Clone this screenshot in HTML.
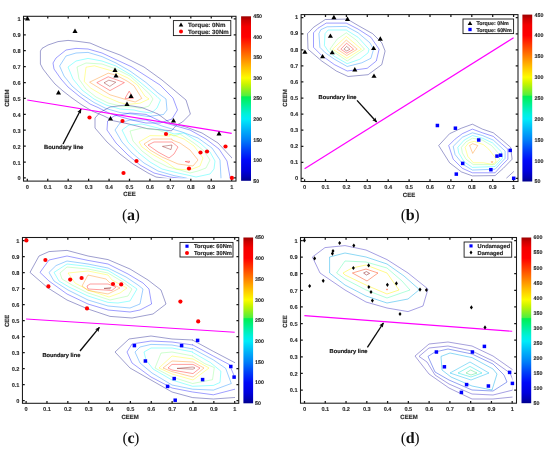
<!DOCTYPE html>
<html lang="en"><head><meta charset="utf-8"><title>Boundary line contour plots</title>
<style>html,body{margin:0;padding:0;background:#fff}body{width:550px;height:450px;overflow:hidden}</style></head>
<body>
<svg width="550" height="450" viewBox="0 0 550 450" style="display:block;text-rendering:geometricPrecision">
<defs><linearGradient id="jet" x1="0" y1="1" x2="0" y2="0">
<stop offset="0.0000" stop-color="#00008c"/>
<stop offset="0.0250" stop-color="#0000b4"/>
<stop offset="0.0625" stop-color="#0000dc"/>
<stop offset="0.1250" stop-color="#0008f8"/>
<stop offset="0.1875" stop-color="#0040f8"/>
<stop offset="0.2500" stop-color="#0080f8"/>
<stop offset="0.3125" stop-color="#00b4f8"/>
<stop offset="0.3750" stop-color="#00ecf8"/>
<stop offset="0.4050" stop-color="#00f0dc"/>
<stop offset="0.4375" stop-color="#00f0b4"/>
<stop offset="0.4750" stop-color="#00f080"/>
<stop offset="0.5100" stop-color="#00f052"/>
<stop offset="0.5175" stop-color="#50f040"/>
<stop offset="0.5500" stop-color="#88f020"/>
<stop offset="0.5875" stop-color="#c8f400"/>
<stop offset="0.6250" stop-color="#fcfc00"/>
<stop offset="0.6875" stop-color="#ffc000"/>
<stop offset="0.7500" stop-color="#ff8000"/>
<stop offset="0.8125" stop-color="#ff4000"/>
<stop offset="0.8750" stop-color="#ff0000"/>
<stop offset="0.9375" stop-color="#f40000"/>
<stop offset="0.9750" stop-color="#cc0000"/>
<stop offset="1.0000" stop-color="#9c0000"/>
</linearGradient>
<marker id="ah" viewBox="0 0 10 10" refX="9" refY="5" markerWidth="5.2" markerHeight="4.6" markerUnits="userSpaceOnUse" orient="auto"><path d="M0 0.5L10 5L0 9.5L1.5 5Z" fill="#0a0a0a"/></marker>
</defs>
<rect width="550" height="450" fill="#fff"/>
<g id="panel-a">
<clipPath id="clipa"><rect x="27.00" y="18.60" width="205.00" height="159.60"/></clipPath>
<g clip-path="url(#clipa)" fill="none" stroke-width="0.8" stroke-opacity="0.48" stroke-linejoin="round">
<path d="M40.4 51.0L42.0 48.4L48.0 45.0L58.0 41.6L68.0 40.4L78.0 41.4L90.0 43.0L104.0 49.0L120.0 55.0L136.0 63.0L144.0 67.0L162.0 80.0L174.0 90.0L186.0 100.0L190.4 114.0L182.5 122.0L176.6 125.0L171.5 130.8L147.0 128.6L128.0 123.8L113.6 120.8L104.0 116.0L92.0 111.0L82.0 105.0L72.0 98.0L63.0 91.0L55.0 84.0L50.0 78.0L43.0 69.0L40.4 64.0Z" stroke="#000080"/>
<path d="M53.0 63.0L56.0 58.0L66.0 50.0L76.0 48.4L88.0 49.0L102.0 53.0L116.0 59.6L132.0 67.0L146.0 76.0L160.0 85.0L173.0 98.0L177.5 110.0L172.0 119.0L160.0 123.0L146.0 123.0L134.0 120.5L119.6 116.5L108.8 113.0L98.0 107.5L90.0 104.0L79.0 96.0L68.0 87.0L61.0 79.0L54.0 69.0Z" stroke="#0000ff"/>
<path d="M59.6 66.0L66.0 56.0L76.0 53.0L88.0 52.4L102.0 56.6L116.0 63.0L130.0 71.0L146.0 82.5L158.0 93.0L166.0 99.0L167.0 110.0L163.5 114.5L148.0 116.5L132.0 114.0L120.0 112.5L106.0 108.5L94.0 102.5L82.0 94.5L72.0 86.0L64.0 76.0Z" stroke="#0080ff"/>
<path d="M68.0 67.0L76.0 61.0L88.0 58.4L102.0 61.0L116.0 66.0L132.0 75.5L146.0 87.0L157.0 96.5L160.5 100.0L157.0 108.0L151.5 113.0L140.0 111.5L134.0 110.0L120.0 109.0L106.0 105.0L94.0 99.0L82.0 90.0L73.0 79.0Z" stroke="#00ffff"/>
<path d="M77.0 67.0L86.0 63.0L102.0 64.0L116.0 69.0L130.0 76.0L141.0 86.0L150.0 94.5L153.0 99.0L149.0 106.0L141.0 108.5L134.0 107.0L122.0 106.4L108.0 103.0L96.0 97.0L86.0 89.0L79.0 79.0Z" stroke="#80ff80"/>
<path d="M86.0 67.2L94.4 65.8L113.6 71.4L128.0 78.0L137.6 85.2L144.8 96.0L149.0 99.0L140.0 103.2L128.0 104.4L119.6 102.6L104.0 96.0L90.8 88.2L84.2 81.6Z" stroke="#ffff00"/>
<path d="M89.6 82.2L108.2 73.2L116.0 75.0L128.0 81.6L134.0 85.8L141.8 98.4L135.2 102.0L128.0 100.2L110.0 94.8Z" stroke="#ff8000"/>
<path d="M96.8 82.6L108.2 76.8L124.4 82.6L110.0 90.6Z" stroke="#ff0000"/>
<path d="M129.2 91.2L133.4 98.4L125.0 98.4Z" stroke="#ff0000"/>
<path d="M104.0 82.8L108.8 80.2L115.8 82.2L109.8 86.4Z" stroke="#800000"/>
<path d="M95.0 128.0L95.0 118.0L100.0 112.4L110.0 107.0L126.0 105.0L142.0 107.6L158.0 114.0L170.0 123.0L186.0 127.0L202.0 133.0L218.0 143.0L232.0 158.0L238.0 166.0L240.0 184.0L190.0 184.0L174.0 179.4L156.0 177.0L148.0 173.0L133.0 164.0L120.0 154.0L107.0 142.0Z" stroke="#000080"/>
<path d="M107.0 130.0L107.6 121.0L114.0 116.0L130.0 113.0L146.0 114.4L162.0 122.0L176.0 126.0L190.0 130.0L206.0 139.0L219.0 149.0L227.0 161.0L230.0 177.0L230.0 184.0L202.0 184.0L186.0 179.0L170.0 177.0L154.0 173.0L140.0 165.0L128.0 155.0L116.0 143.0Z" stroke="#0000ff"/>
<path d="M115.0 130.0L120.0 123.0L130.0 120.0L146.0 120.0L162.0 126.0L182.0 132.0L198.0 138.0L212.0 148.0L220.0 160.0L221.0 178.0L220.0 184.0L198.0 182.0L186.0 178.0L174.0 175.6L158.0 171.0L144.0 163.0L132.0 153.0L122.0 142.0Z" stroke="#0080ff"/>
<path d="M122.0 130.0L129.0 125.0L142.0 124.0L158.0 128.0L174.0 134.0L184.0 133.0L200.0 143.0L210.0 152.0L215.0 161.0L214.0 169.0L210.0 174.0L196.0 177.0L190.0 175.6L178.0 173.0L162.0 169.0L150.0 162.0L138.0 152.4L128.0 142.0Z" stroke="#00ffff"/>
<path d="M130.0 131.0L142.0 128.0L158.0 130.0L174.0 136.0L180.0 134.0L194.0 143.0L204.0 151.0L210.0 160.0L206.0 168.0L198.0 171.0L190.0 173.0L180.0 170.0L168.0 167.0L154.0 160.0L142.0 151.0L133.0 141.0Z" stroke="#80ff80"/>
<path d="M139.0 142.0L150.0 135.6L170.0 136.0L170.0 134.0L184.0 139.0L194.0 146.0L203.0 158.0L200.0 166.0L190.0 170.0L176.0 169.0L166.0 162.0L152.0 154.0L142.0 147.0Z" stroke="#ffff00"/>
<path d="M144.0 144.0L152.0 139.0L172.0 139.0L172.0 140.0L180.0 143.0L190.0 150.0L198.0 160.0L193.0 166.0L178.0 164.0L162.0 157.0L150.0 150.0Z" stroke="#ff8000"/>
<path d="M148.0 145.0L154.0 142.0L172.0 142.0L178.0 147.0L174.0 154.0L169.0 158.0L158.0 152.0Z" stroke="#ff0000"/>
<path d="M162.4 146.4L172.0 145.0L171.0 149.6Z" stroke="#800000"/>
<path d="M185.2 161.5L189.6 161.2L189.1 162.8Z" stroke="#ff0000"/>
</g>
<line x1="27.30" y1="99.99" x2="231.70" y2="133.38" stroke="#ff00ff" stroke-width="1.15"/>
<rect x="23.5" y="16.3" width="212.50" height="164.80" fill="none" stroke="#1a1a1a" stroke-width="1.05"/>
<path d="M27.30 181.1v-2.3M27.30 16.3v2.3M23.5 177.90h2.3M236.0 177.90h-2.3M47.74 181.1v-2.3M47.74 16.3v2.3M23.5 162.00h2.3M236.0 162.00h-2.3M68.18 181.1v-2.3M68.18 16.3v2.3M23.5 146.10h2.3M236.0 146.10h-2.3M88.62 181.1v-2.3M88.62 16.3v2.3M23.5 130.20h2.3M236.0 130.20h-2.3M109.06 181.1v-2.3M109.06 16.3v2.3M23.5 114.30h2.3M236.0 114.30h-2.3M129.50 181.1v-2.3M129.50 16.3v2.3M23.5 98.40h2.3M236.0 98.40h-2.3M149.94 181.1v-2.3M149.94 16.3v2.3M23.5 82.50h2.3M236.0 82.50h-2.3M170.38 181.1v-2.3M170.38 16.3v2.3M23.5 66.60h2.3M236.0 66.60h-2.3M190.82 181.1v-2.3M190.82 16.3v2.3M23.5 50.70h2.3M236.0 50.70h-2.3M211.26 181.1v-2.3M211.26 16.3v2.3M23.5 34.80h2.3M236.0 34.80h-2.3M231.70 181.1v-2.3M231.70 16.3v2.3M23.5 18.90h2.3M236.0 18.90h-2.3" stroke="#1a1a1a" stroke-width="1.25" fill="none"/>
<path d="M24.95 20.40L30.05 20.40L27.50 16.00Z" fill="#000"/>
<path d="M72.45 32.90L77.55 32.90L75.00 28.50Z" fill="#000"/>
<path d="M55.95 94.40L61.05 94.40L58.50 90.00Z" fill="#000"/>
<path d="M112.45 71.90L117.55 71.90L115.00 67.50Z" fill="#000"/>
<path d="M113.45 77.40L118.55 77.40L116.00 73.00Z" fill="#000"/>
<path d="M128.45 97.90L133.55 97.90L131.00 93.50Z" fill="#000"/>
<path d="M124.45 105.90L129.55 105.90L127.00 101.50Z" fill="#000"/>
<path d="M107.95 120.40L113.05 120.40L110.50 116.00Z" fill="#000"/>
<path d="M170.95 122.40L176.05 122.40L173.50 118.00Z" fill="#000"/>
<path d="M216.45 135.40L221.55 135.40L219.00 131.00Z" fill="#000"/>
<circle cx="89.50" cy="117.50" r="2.10" fill="#ff0000"/>
<circle cx="122.50" cy="121.00" r="2.10" fill="#ff0000"/>
<circle cx="166.00" cy="134.00" r="2.10" fill="#ff0000"/>
<circle cx="136.50" cy="161.00" r="2.10" fill="#ff0000"/>
<circle cx="123.50" cy="173.00" r="2.10" fill="#ff0000"/>
<circle cx="189.00" cy="168.50" r="2.10" fill="#ff0000"/>
<circle cx="200.50" cy="152.50" r="2.10" fill="#ff0000"/>
<circle cx="207.00" cy="151.50" r="2.10" fill="#ff0000"/>
<circle cx="225.50" cy="146.50" r="2.10" fill="#ff0000"/>
<circle cx="231.90" cy="177.90" r="2.10" fill="#ff0000"/>
<g font-family="Liberation Sans, Arial, sans-serif" font-weight="bold" font-size="5.6" fill="#2a2a2a" stroke="#2a2a2a" stroke-width="0.12">
<text x="27.30" y="188.50" text-anchor="middle">0</text>
<text x="20.50" y="180.42" text-anchor="end">0</text>
<text x="47.74" y="188.50" text-anchor="middle">0.1</text>
<text x="20.50" y="164.52" text-anchor="end">0.1</text>
<text x="68.18" y="188.50" text-anchor="middle">0.2</text>
<text x="20.50" y="148.62" text-anchor="end">0.2</text>
<text x="88.62" y="188.50" text-anchor="middle">0.3</text>
<text x="20.50" y="132.72" text-anchor="end">0.3</text>
<text x="109.06" y="188.50" text-anchor="middle">0.4</text>
<text x="20.50" y="116.82" text-anchor="end">0.4</text>
<text x="129.50" y="188.50" text-anchor="middle">0.5</text>
<text x="20.50" y="100.92" text-anchor="end">0.5</text>
<text x="149.94" y="188.50" text-anchor="middle">0.6</text>
<text x="20.50" y="85.02" text-anchor="end">0.6</text>
<text x="170.38" y="188.50" text-anchor="middle">0.7</text>
<text x="20.50" y="69.12" text-anchor="end">0.7</text>
<text x="190.82" y="188.50" text-anchor="middle">0.8</text>
<text x="20.50" y="53.22" text-anchor="end">0.8</text>
<text x="211.26" y="188.50" text-anchor="middle">0.9</text>
<text x="20.50" y="37.32" text-anchor="end">0.9</text>
<text x="231.70" y="188.50" text-anchor="middle">1</text>
<text x="20.50" y="21.42" text-anchor="end">1</text>
<text x="253.2" y="182.71" font-size="5.3">50</text>
<text x="253.2" y="162.15" font-size="5.3">100</text>
<text x="253.2" y="141.58" font-size="5.3">150</text>
<text x="253.2" y="121.02" font-size="5.3">200</text>
<text x="253.2" y="100.46" font-size="5.3">250</text>
<text x="253.2" y="79.90" font-size="5.3">300</text>
<text x="253.2" y="59.33" font-size="5.3">350</text>
<text x="253.2" y="38.77" font-size="5.3">400</text>
<text x="253.2" y="18.21" font-size="5.3">450</text>
</g>
<g font-family="Liberation Sans, Arial, sans-serif" font-weight="bold" font-size="6.0" fill="#2a2a2a" stroke="#2a2a2a" stroke-width="0.14" text-anchor="middle">
<text x="129.5" y="196">CEE</text>
<text transform="translate(9.3 98.2) rotate(-90)">CEEM</text>
</g>
<rect x="241.1" y="16.3" width="9.90" height="164.50" fill="url(#jet)"/>
<rect x="173.4" y="20.6" width="57.40" height="15.00" fill="#fff" stroke="#1a1a1a" stroke-width="0.9"/>
<path d="M178.71 26.51L183.29 26.51L181.00 22.55Z" fill="#000"/>
<circle cx="181.00" cy="31.50" r="1.99" fill="#ff0000"/>
<g font-family="Liberation Sans, Arial, sans-serif" font-weight="bold" font-size="6.15" fill="#2a2a2a" stroke="#2a2a2a" stroke-width="0.18">
<text x="188" y="27.31">Torque: 0Nm</text>
<text x="188" y="34.01">Torque: 30Nm</text>
</g>
<text x="44" y="148.6" font-family="Liberation Sans, Arial, sans-serif" font-weight="bold" font-size="5.9" fill="#1a1a1a" stroke="#1a1a1a" stroke-width="0.2">Boundary line</text>
<line x1="63" y1="144" x2="81" y2="109.2" stroke="#0a0a0a" stroke-width="1.35" marker-end="url(#ah)"/>
<text x="130.7" y="220" text-anchor="middle" font-family="Liberation Serif, Times New Roman, serif" font-size="16" letter-spacing="-0.4" fill="#111">(<tspan font-weight="bold">a</tspan>)</text>
</g>
<g id="panel-b">
<clipPath id="clipb"><rect x="304.30" y="17.40" width="209.60" height="161.30"/></clipPath>
<g clip-path="url(#clipb)" fill="none" stroke-width="0.8" stroke-opacity="0.48" stroke-linejoin="round">
<path d="M307.5 33.7L313.5 27.3L325.3 19.5L347.2 19.1L358.1 25.5L372.7 33.7L381.8 42.8L385.1 51.0L381.8 64.6L368.1 74.7L348.1 76.5L336.3 71.0L321.7 61.0L308.0 49.2Z" stroke="#000080"/>
<path d="M313.5 32.8L318.0 28.2L326.2 23.1L346.3 23.1L358.1 29.1L370.9 37.3L379.1 49.2L376.3 61.0L367.2 68.3L347.2 71.0L334.4 64.6L321.7 55.5L313.5 47.3Z" stroke="#0000ff"/>
<path d="M318.9 33.7L320.8 29.7L327.1 26.8L346.3 26.4L358.1 32.8L369.9 42.8L373.6 49.2L370.9 58.3L361.8 62.8L347.2 66.5L334.4 59.2L325.3 52.8L319.9 47.3Z" stroke="#0080ff"/>
<path d="M325.0 33.7L328.1 30.0L346.3 30.0L358.1 37.3L369.0 49.2L368.1 52.8L359.9 59.2L347.2 63.7L334.4 56.4L328.1 51.0L324.4 45.5Z" stroke="#00ffff"/>
<path d="M329.9 49.2L337.2 39.1L346.3 32.8L356.3 40.1L364.5 49.2L347.2 61.0Z" stroke="#80ff80"/>
<path d="M332.6 49.2L346.3 36.4L361.4 49.2L346.8 58.3Z" stroke="#ffff00"/>
<path d="M337.2 49.2L346.3 40.1L357.2 49.2L346.8 55.5Z" stroke="#ff8000"/>
<path d="M340.8 49.2L346.6 43.2L353.6 49.2L346.8 53.2Z" stroke="#ff0000"/>
<path d="M343.9 49.2L346.6 46.4L349.9 49.2L346.8 51.0Z" stroke="#800000"/>
<path d="M438.7 145.5L449.6 133.7L461.4 128.2L472.4 124.2L482.4 129.1L493.3 132.8L503.3 141.0L510.6 147.3L512.1 159.2L503.3 168.3L495.1 175.6L472.4 175.9L461.4 171.9L449.6 162.8Z" stroke="#000080"/>
<path d="M506.3 178.3L514.0 171.3" stroke="#000080"/>
<path d="M448.7 145.5L455.1 139.1L462.3 133.7L472.4 129.1L482.4 132.8L493.3 136.4L501.5 143.7L507.9 149.2L507.9 159.2L501.5 165.6L495.1 172.8L472.4 172.8L462.3 168.3L453.2 159.2Z" stroke="#0000ff"/>
<path d="M453.2 146.4L462.3 137.3L472.4 132.8L482.4 135.5L493.3 140.1L505.1 151.0L505.1 158.3L495.1 169.2L472.4 170.1L463.3 164.6L455.1 154.6Z" stroke="#0080ff"/>
<path d="M457.8 147.3L464.2 140.1L472.4 135.5L482.4 138.2L492.4 142.8L501.5 151.9L502.4 158.3L495.1 166.5L472.4 167.4L464.2 161.9L458.7 152.8Z" stroke="#00ffff"/>
<path d="M461.4 147.3L466.0 141.9L472.4 138.2L482.4 140.1L491.5 145.5L498.8 153.7L499.7 159.2L494.2 164.6L473.3 164.6L466.0 159.2L462.3 152.8Z" stroke="#80ff80"/>
<path d="M465.1 147.3L468.7 142.8L474.2 141.3L483.3 144.6L488.8 149.2L495.1 157.4L496.0 161.9L492.4 164.3L483.3 162.8L473.3 162.8L467.8 156.4Z" stroke="#ffff00"/>
<path d="M469.6 145.5L472.7 143.7L477.8 145.5L472.7 153.4Z" stroke="#ff8000"/>
<path d="M490.9 161.9L492.8 161.5L492.4 162.8Z" stroke="#ff8000"/>
</g>
<line x1="304.60" y1="168.76" x2="513.60" y2="37.79" stroke="#ff00ff" stroke-width="1.15"/>
<rect x="301.1" y="14.6" width="216.90" height="166.90" fill="none" stroke="#1a1a1a" stroke-width="1.05"/>
<path d="M304.60 181.5v-2.3M304.60 14.6v2.3M301.1 178.40h2.3M518.0 178.40h-2.3M325.50 181.5v-2.3M325.50 14.6v2.3M301.1 162.33h2.3M518.0 162.33h-2.3M346.40 181.5v-2.3M346.40 14.6v2.3M301.1 146.26h2.3M518.0 146.26h-2.3M367.30 181.5v-2.3M367.30 14.6v2.3M301.1 130.19h2.3M518.0 130.19h-2.3M388.20 181.5v-2.3M388.20 14.6v2.3M301.1 114.12h2.3M518.0 114.12h-2.3M409.10 181.5v-2.3M409.10 14.6v2.3M301.1 98.05h2.3M518.0 98.05h-2.3M430.00 181.5v-2.3M430.00 14.6v2.3M301.1 81.98h2.3M518.0 81.98h-2.3M450.90 181.5v-2.3M450.90 14.6v2.3M301.1 65.91h2.3M518.0 65.91h-2.3M471.80 181.5v-2.3M471.80 14.6v2.3M301.1 49.84h2.3M518.0 49.84h-2.3M492.70 181.5v-2.3M492.70 14.6v2.3M301.1 33.77h2.3M518.0 33.77h-2.3M513.60 181.5v-2.3M513.60 14.6v2.3M301.1 17.70h2.3M518.0 17.70h-2.3" stroke="#1a1a1a" stroke-width="1.25" fill="none"/>
<path d="M331.35 19.20L336.45 19.20L333.90 14.80Z" fill="#000"/>
<path d="M344.95 21.00L350.05 21.00L347.50 16.60Z" fill="#000"/>
<path d="M327.85 37.80L332.95 37.80L330.40 33.40Z" fill="#000"/>
<path d="M302.35 53.80L307.45 53.80L304.90 49.40Z" fill="#000"/>
<path d="M320.05 58.30L325.15 58.30L322.60 53.90Z" fill="#000"/>
<path d="M329.65 54.30L334.75 54.30L332.20 49.90Z" fill="#000"/>
<path d="M377.75 40.70L382.85 40.70L380.30 36.30Z" fill="#000"/>
<path d="M371.05 50.10L376.15 50.10L373.60 45.70Z" fill="#000"/>
<path d="M352.25 71.50L357.35 71.50L354.80 67.10Z" fill="#000"/>
<path d="M371.45 77.80L376.55 77.80L374.00 73.40Z" fill="#000"/>
<rect x="435.65" y="123.75" width="3.50" height="3.50" fill="#0000ff"/>
<rect x="453.65" y="126.45" width="3.50" height="3.50" fill="#0000ff"/>
<rect x="476.95" y="138.25" width="3.50" height="3.50" fill="#0000ff"/>
<rect x="460.95" y="161.65" width="3.50" height="3.50" fill="#0000ff"/>
<rect x="454.55" y="172.35" width="3.50" height="3.50" fill="#0000ff"/>
<rect x="489.15" y="167.95" width="3.50" height="3.50" fill="#0000ff"/>
<rect x="495.25" y="154.35" width="3.50" height="3.50" fill="#0000ff"/>
<rect x="498.85" y="153.45" width="3.50" height="3.50" fill="#0000ff"/>
<rect x="508.45" y="148.65" width="3.50" height="3.50" fill="#0000ff"/>
<rect x="511.95" y="176.55" width="3.50" height="3.50" fill="#0000ff"/>
<g font-family="Liberation Sans, Arial, sans-serif" font-weight="bold" font-size="5.6" fill="#2a2a2a" stroke="#2a2a2a" stroke-width="0.12">
<text x="304.60" y="189.00" text-anchor="middle">0</text>
<text x="298.10" y="180.12" text-anchor="end">0</text>
<text x="325.50" y="189.00" text-anchor="middle">0.1</text>
<text x="298.10" y="164.05" text-anchor="end">0.1</text>
<text x="346.40" y="189.00" text-anchor="middle">0.2</text>
<text x="298.10" y="147.98" text-anchor="end">0.2</text>
<text x="367.30" y="189.00" text-anchor="middle">0.3</text>
<text x="298.10" y="131.91" text-anchor="end">0.3</text>
<text x="388.20" y="189.00" text-anchor="middle">0.4</text>
<text x="298.10" y="115.84" text-anchor="end">0.4</text>
<text x="409.10" y="189.00" text-anchor="middle">0.5</text>
<text x="298.10" y="99.77" text-anchor="end">0.5</text>
<text x="430.00" y="189.00" text-anchor="middle">0.6</text>
<text x="298.10" y="83.70" text-anchor="end">0.6</text>
<text x="450.90" y="189.00" text-anchor="middle">0.7</text>
<text x="298.10" y="67.63" text-anchor="end">0.7</text>
<text x="471.80" y="189.00" text-anchor="middle">0.8</text>
<text x="298.10" y="51.56" text-anchor="end">0.8</text>
<text x="492.70" y="189.00" text-anchor="middle">0.9</text>
<text x="298.10" y="35.49" text-anchor="end">0.9</text>
<text x="513.60" y="189.00" text-anchor="middle">1</text>
<text x="298.10" y="19.42" text-anchor="end">1</text>
<text x="534.5" y="183.41" font-size="5.3">50</text>
<text x="534.5" y="162.55" font-size="5.3">100</text>
<text x="534.5" y="141.68" font-size="5.3">150</text>
<text x="534.5" y="120.82" font-size="5.3">200</text>
<text x="534.5" y="99.96" font-size="5.3">250</text>
<text x="534.5" y="79.10" font-size="5.3">300</text>
<text x="534.5" y="58.23" font-size="5.3">350</text>
<text x="534.5" y="37.37" font-size="5.3">400</text>
<text x="534.5" y="16.51" font-size="5.3">450</text>
</g>
<g font-family="Liberation Sans, Arial, sans-serif" font-weight="bold" font-size="6.0" fill="#2a2a2a" stroke="#2a2a2a" stroke-width="0.14" text-anchor="middle">
<text x="409" y="196.8">CEE</text>
<text transform="translate(287.3 98) rotate(-90)">CEEM</text>
</g>
<rect x="522.4" y="14.6" width="9.80" height="166.90" fill="url(#jet)"/>
<rect x="463" y="19" width="50.60" height="14.60" fill="#fff" stroke="#1a1a1a" stroke-width="0.9"/>
<path d="M467.70 24.91L472.30 24.91L470.00 20.95Z" fill="#000"/>
<rect x="468.34" y="27.84" width="3.32" height="3.32" fill="#0000ff"/>
<g font-family="Liberation Sans, Arial, sans-serif" font-weight="bold" font-size="5.3" fill="#2a2a2a" stroke="#2a2a2a" stroke-width="0.18">
<text x="476.4" y="25.41">Torque: 0Nm</text>
<text x="476.4" y="31.71">Torque: 60Nm</text>
</g>
<text x="318.6" y="99.4" font-family="Liberation Sans, Arial, sans-serif" font-weight="bold" font-size="5.7" fill="#1a1a1a" stroke="#1a1a1a" stroke-width="0.2">Boundary line</text>
<line x1="357" y1="100.4" x2="376.6" y2="122" stroke="#0a0a0a" stroke-width="1.35" marker-end="url(#ah)"/>
<text x="409.95" y="220" text-anchor="middle" font-family="Liberation Serif, Times New Roman, serif" font-size="16" letter-spacing="-0.4" fill="#111">(<tspan font-weight="bold">b</tspan>)</text>
</g>
<g id="panel-c">
<clipPath id="clipc"><rect x="25.80" y="240.20" width="209.20" height="160.80"/></clipPath>
<g clip-path="url(#clipc)" fill="none" stroke-width="0.8" stroke-opacity="0.48" stroke-linejoin="round">
<path d="M30.0 272.4L39.0 256.0L49.0 251.6L67.0 250.4L88.0 256.0L108.0 259.6L130.0 269.0L148.0 280.0L161.0 290.0L166.0 304.0L153.0 314.0L132.0 318.0L110.0 316.4L88.0 309.0L67.0 300.0L48.0 288.0Z" stroke="#000080"/>
<path d="M40.0 272.4L49.0 260.0L67.0 256.0L88.0 260.4L108.0 264.0L128.0 274.0L143.0 283.0L149.0 289.0L151.6 304.0L140.0 310.0L130.0 312.0L108.0 310.0L88.0 304.0L67.0 294.0L49.0 281.0Z" stroke="#0000ff"/>
<path d="M49.0 272.4L56.0 265.6L67.0 261.0L88.0 264.0L108.0 268.0L126.0 277.0L138.0 285.0L143.0 289.0L140.0 304.0L130.0 308.0L108.0 306.0L88.0 300.0L68.0 290.0L54.0 281.0Z" stroke="#0080ff"/>
<path d="M54.0 272.4L67.0 264.0L88.0 266.4L108.0 270.4L124.0 280.0L137.0 289.0L130.0 301.0L118.0 303.0L108.0 302.4L88.0 296.0L69.0 287.0L59.0 281.0Z" stroke="#00ffff"/>
<path d="M60.0 273.0L67.0 267.0L88.0 269.0L108.0 273.0L123.0 282.0L132.0 289.0L128.0 296.0L110.0 300.0L88.0 293.0L72.0 285.0L62.0 279.0Z" stroke="#80ff80"/>
<path d="M68.0 273.0L88.0 271.0L108.0 275.0L112.0 280.0L127.0 288.0L120.0 293.0L109.0 297.0L88.0 290.0L75.0 283.0Z" stroke="#ffff00"/>
<path d="M82.0 286.0L88.0 275.0L106.0 279.0L110.0 283.0L120.0 288.0L110.0 293.0L108.0 294.0L88.0 290.4Z" stroke="#ff8000"/>
<path d="M87.0 286.0L90.0 284.0L108.0 284.0L116.0 287.0L112.0 290.4L88.0 289.0Z" stroke="#ff0000"/>
<path d="M104.0 288.4L111.0 287.6L110.0 288.8Z" stroke="#800000"/>
<path d="M115.0 352.0L129.0 339.0L151.0 336.0L172.0 339.0L193.0 340.0L192.6 340.1L213.4 351.4L233.2 361.8L245.5 368.4L245.5 396.7L233.2 397.6L213.4 399.0L192.6 397.6L172.0 392.0L151.0 380.0L130.0 368.0Z" stroke="#000080"/>
<path d="M127.0 352.0L132.0 344.0L151.0 341.0L172.0 342.0L193.0 345.0L192.6 344.8L213.4 356.1L229.4 364.6L234.2 375.9L236.4 381.6L236.4 388.8L213.4 394.8L192.6 392.0L172.0 388.0L151.0 377.0L132.0 363.0Z" stroke="#0000ff"/>
<path d="M135.0 352.0L140.0 347.0L151.0 344.4L172.0 345.0L193.0 349.0L192.6 348.6L213.4 359.9L225.7 368.4L231.3 383.5L213.4 390.1L192.6 389.2L172.0 385.0L152.0 373.0L140.0 363.0Z" stroke="#0080ff"/>
<path d="M144.0 352.0L151.0 348.0L172.0 348.0L193.0 352.0L192.6 352.4L210.6 362.7L220.9 371.2L220.0 382.5L213.4 385.4L192.6 386.3L172.0 380.0L153.0 369.0L146.0 360.0Z" stroke="#00ffff"/>
<path d="M155.0 368.0L161.0 353.0L172.0 352.0L193.0 356.0L192.6 356.1L204.9 363.7L214.3 367.5L212.5 379.7L192.6 383.5L172.0 377.0Z" stroke="#80ff80"/>
<path d="M159.0 368.0L172.0 356.0L193.0 359.0L209.0 368.0L193.0 380.0L172.0 374.0Z" stroke="#ffff00"/>
<path d="M163.0 368.0L172.0 361.0L193.0 362.0L204.0 368.0L193.0 377.0L172.0 371.6Z" stroke="#ff8000"/>
<path d="M168.0 368.0L172.0 364.4L193.0 364.4L200.0 368.0L193.0 373.6L172.0 370.0Z" stroke="#ff0000"/>
<path d="M177.0 368.4L193.0 367.0L195.0 368.0L193.0 369.2Z" stroke="#800000"/>
</g>
<line x1="26.10" y1="319.00" x2="234.70" y2="332.29" stroke="#ff00ff" stroke-width="1.15"/>
<rect x="22.45" y="237.5" width="216.30" height="165.80" fill="none" stroke="#1a1a1a" stroke-width="1.05"/>
<path d="M26.10 403.3v-2.3M26.10 237.5v2.3M22.45 400.70h2.3M238.75 400.70h-2.3M46.96 403.3v-2.3M46.96 237.5v2.3M22.45 384.68h2.3M238.75 384.68h-2.3M67.82 403.3v-2.3M67.82 237.5v2.3M22.45 368.66h2.3M238.75 368.66h-2.3M88.68 403.3v-2.3M88.68 237.5v2.3M22.45 352.64h2.3M238.75 352.64h-2.3M109.54 403.3v-2.3M109.54 237.5v2.3M22.45 336.62h2.3M238.75 336.62h-2.3M130.40 403.3v-2.3M130.40 237.5v2.3M22.45 320.60h2.3M238.75 320.60h-2.3M151.26 403.3v-2.3M151.26 237.5v2.3M22.45 304.58h2.3M238.75 304.58h-2.3M172.12 403.3v-2.3M172.12 237.5v2.3M22.45 288.56h2.3M238.75 288.56h-2.3M192.98 403.3v-2.3M192.98 237.5v2.3M22.45 272.54h2.3M238.75 272.54h-2.3M213.84 403.3v-2.3M213.84 237.5v2.3M22.45 256.52h2.3M238.75 256.52h-2.3M234.70 403.3v-2.3M234.70 237.5v2.3M22.45 240.50h2.3M238.75 240.50h-2.3" stroke="#1a1a1a" stroke-width="1.25" fill="none"/>
<circle cx="26.40" cy="240.40" r="2.10" fill="#ff0000"/>
<circle cx="45.40" cy="260.00" r="2.10" fill="#ff0000"/>
<circle cx="48.40" cy="286.40" r="2.10" fill="#ff0000"/>
<circle cx="70.20" cy="279.60" r="2.10" fill="#ff0000"/>
<circle cx="81.60" cy="278.00" r="2.10" fill="#ff0000"/>
<circle cx="87.00" cy="308.40" r="2.10" fill="#ff0000"/>
<circle cx="113.00" cy="284.00" r="2.10" fill="#ff0000"/>
<circle cx="121.20" cy="284.40" r="2.10" fill="#ff0000"/>
<circle cx="180.40" cy="301.60" r="2.10" fill="#ff0000"/>
<circle cx="198.20" cy="321.40" r="2.10" fill="#ff0000"/>
<rect x="132.65" y="343.85" width="3.50" height="3.50" fill="#0000ff"/>
<rect x="143.65" y="359.25" width="3.50" height="3.50" fill="#0000ff"/>
<rect x="179.85" y="343.85" width="3.50" height="3.50" fill="#0000ff"/>
<rect x="195.85" y="338.65" width="3.50" height="3.50" fill="#0000ff"/>
<rect x="172.45" y="376.85" width="3.50" height="3.50" fill="#0000ff"/>
<rect x="165.85" y="384.65" width="3.50" height="3.50" fill="#0000ff"/>
<rect x="200.85" y="377.85" width="3.50" height="3.50" fill="#0000ff"/>
<rect x="173.45" y="398.45" width="3.50" height="3.50" fill="#0000ff"/>
<rect x="229.05" y="364.75" width="3.50" height="3.50" fill="#0000ff"/>
<rect x="232.35" y="375.35" width="3.50" height="3.50" fill="#0000ff"/>
<g font-family="Liberation Sans, Arial, sans-serif" font-weight="bold" font-size="5.6" fill="#2a2a2a" stroke="#2a2a2a" stroke-width="0.12">
<text x="26.10" y="410.60" text-anchor="middle">0</text>
<text x="19.45" y="403.22" text-anchor="end">0</text>
<text x="46.96" y="410.60" text-anchor="middle">0.1</text>
<text x="19.45" y="387.20" text-anchor="end">0.1</text>
<text x="67.82" y="410.60" text-anchor="middle">0.2</text>
<text x="19.45" y="371.18" text-anchor="end">0.2</text>
<text x="88.68" y="410.60" text-anchor="middle">0.3</text>
<text x="19.45" y="355.16" text-anchor="end">0.3</text>
<text x="109.54" y="410.60" text-anchor="middle">0.4</text>
<text x="19.45" y="339.14" text-anchor="end">0.4</text>
<text x="130.40" y="410.60" text-anchor="middle">0.5</text>
<text x="19.45" y="323.12" text-anchor="end">0.5</text>
<text x="151.26" y="410.60" text-anchor="middle">0.6</text>
<text x="19.45" y="307.10" text-anchor="end">0.6</text>
<text x="172.12" y="410.60" text-anchor="middle">0.7</text>
<text x="19.45" y="291.08" text-anchor="end">0.7</text>
<text x="192.98" y="410.60" text-anchor="middle">0.8</text>
<text x="19.45" y="275.06" text-anchor="end">0.8</text>
<text x="213.84" y="410.60" text-anchor="middle">0.9</text>
<text x="19.45" y="259.04" text-anchor="end">0.9</text>
<text x="234.70" y="410.60" text-anchor="middle">1</text>
<text x="19.45" y="243.02" text-anchor="end">1</text>
<text x="255" y="405.21" font-size="5.3">50</text>
<text x="255" y="384.48" font-size="5.3">100</text>
<text x="255" y="363.76" font-size="5.3">150</text>
<text x="255" y="343.03" font-size="5.3">200</text>
<text x="255" y="322.31" font-size="5.3">250</text>
<text x="255" y="301.58" font-size="5.3">300</text>
<text x="255" y="280.86" font-size="5.3">350</text>
<text x="255" y="260.13" font-size="5.3">400</text>
<text x="255" y="239.41" font-size="5.3">450</text>
</g>
<g font-family="Liberation Sans, Arial, sans-serif" font-weight="bold" font-size="6.0" fill="#2a2a2a" stroke="#2a2a2a" stroke-width="0.14" text-anchor="middle">
<text x="130.2" y="418.5">CEEM</text>
<text transform="translate(8.8 320.8) rotate(-90)">CEE</text>
</g>
<rect x="243.4" y="237.5" width="9.70" height="165.80" fill="url(#jet)"/>
<rect x="180" y="242.4" width="53.00" height="14.60" fill="#fff" stroke="#1a1a1a" stroke-width="0.9"/>
<rect x="185.43" y="244.62" width="3.15" height="3.15" fill="#0000ff"/>
<circle cx="187.00" cy="253.00" r="1.99" fill="#ff0000"/>
<g font-family="Liberation Sans, Arial, sans-serif" font-weight="bold" font-size="5.7" fill="#2a2a2a" stroke="#2a2a2a" stroke-width="0.18">
<text x="194" y="247.85">Torque: 60Nm</text>
<text x="194" y="255.35">Torque: 30Nm</text>
</g>
<text x="42.4" y="356.5" font-family="Liberation Sans, Arial, sans-serif" font-weight="bold" font-size="5.7" fill="#1a1a1a" stroke="#1a1a1a" stroke-width="0.2">Boundary line</text>
<line x1="80" y1="351" x2="99.4" y2="327.4" stroke="#0a0a0a" stroke-width="1.35" marker-end="url(#ah)"/>
<text x="130.75" y="442.7" text-anchor="middle" font-family="Liberation Serif, Times New Roman, serif" font-size="16" letter-spacing="-0.4" fill="#111">(<tspan font-weight="bold">c</tspan>)</text>
</g>
<g id="panel-d">
<clipPath id="clipd"><rect x="304.20" y="240.20" width="208.30" height="163.00"/></clipPath>
<g clip-path="url(#clipd)" fill="none" stroke-width="0.95" stroke-opacity="0.48" stroke-linejoin="round">
<path d="M312.4 257.0L325.0 247.6L345.0 245.6L366.0 250.0L387.0 259.6L408.0 273.0L428.0 289.0L423.0 306.0L408.0 311.6L387.0 308.0L366.0 302.0L345.0 290.0L320.0 273.0Z" stroke="#3a2cc0"/>
<path d="M329.6 257.0L345.0 253.0L366.0 257.0L387.0 264.0L404.0 276.0L419.4 289.6L408.0 299.0L387.0 303.0L366.0 296.0L345.0 285.0L329.6 273.0Z" stroke="#00a8e8"/>
<path d="M336.6 273.0L345.0 261.0L366.0 262.0L387.0 268.0L402.0 281.0L410.0 290.0L387.0 298.0L366.0 290.0L345.0 279.0Z" stroke="#51ffae"/>
<path d="M343.0 273.0L352.0 268.0L366.0 265.0L387.0 273.0L387.0 273.0L399.0 290.0L387.0 294.0L366.0 285.0L345.0 275.0Z" stroke="#fff300"/>
<path d="M352.4 273.0L366.0 269.0L378.0 273.0L367.0 281.0Z" stroke="#ff3a00"/>
<path d="M363.6 273.0L366.4 271.6L369.6 273.4L366.4 275.0Z" stroke="#800000"/>
<path d="M386.4 289.2L387.6 289.2L387.0 290.2Z" stroke="#ff3a00"/>
<path d="M415.0 356.0L429.0 344.0L448.0 342.0L472.0 346.0L493.0 356.0L513.0 370.0L523.0 377.0L523.0 395.0L513.0 397.0L493.0 399.0L472.0 399.0L449.0 388.0L429.0 374.0Z" stroke="#3a2cb0"/>
<path d="M419.0 356.4L429.0 348.0L448.0 346.0L472.0 351.0L493.0 361.0L510.0 373.0L513.4 381.0L513.0 390.0L509.0 391.0L493.0 395.0L472.0 394.0L449.0 384.0L435.0 375.0L427.0 362.0Z" stroke="#3a2cc0"/>
<path d="M428.0 356.4L435.0 352.0L448.0 349.0L472.0 354.0L493.0 364.0L504.0 375.0L507.0 382.0L493.0 391.0L472.0 390.0L449.0 380.0L435.0 372.0Z" stroke="#1030e0"/>
<path d="M441.0 356.4L450.0 353.0L472.0 357.6L493.0 369.0L497.0 374.0L492.0 390.0L472.0 386.0L451.0 377.0L442.0 370.0Z" stroke="#00a8e8"/>
<path d="M450.0 373.0L470.0 362.0L489.0 373.0L471.0 380.0Z" stroke="#10b8f0"/>
<path d="M458.0 373.0L470.0 366.4L482.0 373.0L471.0 377.0Z" stroke="#10e0e0"/>
<path d="M466.0 373.0L470.6 370.0L477.0 373.0L471.0 375.0Z" stroke="#40e080"/>
</g>
<line x1="304.40" y1="315.60" x2="512.20" y2="331.30" stroke="#ff00ff" stroke-width="1.15"/>
<rect x="300.5" y="237.5" width="216.00" height="165.70" fill="none" stroke="#1a1a1a" stroke-width="1.05"/>
<path d="M304.50 403.2v-2.3M304.50 237.5v2.3M325.27 403.2v-2.3M325.27 237.5v2.3M300.5 390.10h2.3M516.5 390.10h-2.3M346.04 403.2v-2.3M346.04 237.5v2.3M300.5 373.48h2.3M516.5 373.48h-2.3M366.81 403.2v-2.3M366.81 237.5v2.3M300.5 356.85h2.3M516.5 356.85h-2.3M387.58 403.2v-2.3M387.58 237.5v2.3M300.5 340.23h2.3M516.5 340.23h-2.3M408.35 403.2v-2.3M408.35 237.5v2.3M300.5 323.61h2.3M516.5 323.61h-2.3M429.12 403.2v-2.3M429.12 237.5v2.3M300.5 306.99h2.3M516.5 306.99h-2.3M449.89 403.2v-2.3M449.89 237.5v2.3M300.5 290.37h2.3M516.5 290.37h-2.3M470.66 403.2v-2.3M470.66 237.5v2.3M300.5 273.74h2.3M516.5 273.74h-2.3M491.43 403.2v-2.3M491.43 237.5v2.3M300.5 257.12h2.3M516.5 257.12h-2.3M512.20 403.2v-2.3M512.20 237.5v2.3M300.5 240.50h2.3M516.5 240.50h-2.3" stroke="#1a1a1a" stroke-width="1.25" fill="none"/>
<path d="M302.90 240.40L304.40 238.30L305.90 240.40L304.40 242.50Z" fill="#000"/>
<path d="M313.10 258.40L314.60 256.30L316.10 258.40L314.60 260.50Z" fill="#000"/>
<path d="M308.10 286.00L309.60 283.90L311.10 286.00L309.60 288.10Z" fill="#000"/>
<path d="M321.70 280.80L323.20 278.70L324.70 280.80L323.20 282.90Z" fill="#000"/>
<path d="M338.10 243.00L339.60 240.90L341.10 243.00L339.60 245.10Z" fill="#000"/>
<path d="M331.50 251.00L333.00 248.90L334.50 251.00L333.00 253.10Z" fill="#000"/>
<path d="M330.90 253.60L332.40 251.50L333.90 253.60L332.40 255.70Z" fill="#000"/>
<path d="M352.30 245.60L353.80 243.50L355.30 245.60L353.80 247.70Z" fill="#000"/>
<path d="M351.90 268.00L353.40 265.90L354.90 268.00L353.40 270.10Z" fill="#000"/>
<path d="M367.10 265.40L368.60 263.30L370.10 265.40L368.60 267.50Z" fill="#000"/>
<path d="M367.30 287.00L368.80 284.90L370.30 287.00L368.80 289.10Z" fill="#000"/>
<path d="M369.50 292.00L371.00 289.90L372.50 292.00L371.00 294.10Z" fill="#000"/>
<path d="M370.90 300.60L372.40 298.50L373.90 300.60L372.40 302.70Z" fill="#000"/>
<path d="M385.90 284.80L387.40 282.70L388.90 284.80L387.40 286.90Z" fill="#000"/>
<path d="M394.90 283.40L396.40 281.30L397.90 283.40L396.40 285.50Z" fill="#000"/>
<path d="M398.50 314.00L400.00 311.90L401.50 314.00L400.00 316.10Z" fill="#000"/>
<path d="M418.50 289.60L420.00 287.50L421.50 289.60L420.00 291.70Z" fill="#000"/>
<path d="M424.90 290.00L426.40 287.90L427.90 290.00L426.40 292.10Z" fill="#000"/>
<path d="M469.90 307.40L471.40 305.30L472.90 307.40L471.40 309.50Z" fill="#000"/>
<path d="M483.50 327.40L485.00 325.30L486.50 327.40L485.00 329.50Z" fill="#000"/>
<rect x="434.65" y="350.25" width="3.50" height="3.50" fill="#0000ff"/>
<rect x="442.65" y="365.05" width="3.50" height="3.50" fill="#0000ff"/>
<rect x="470.65" y="350.25" width="3.50" height="3.50" fill="#0000ff"/>
<rect x="482.65" y="344.65" width="3.50" height="3.50" fill="#0000ff"/>
<rect x="464.85" y="382.85" width="3.50" height="3.50" fill="#0000ff"/>
<rect x="459.65" y="390.65" width="3.50" height="3.50" fill="#0000ff"/>
<rect x="486.65" y="384.25" width="3.50" height="3.50" fill="#0000ff"/>
<rect x="507.85" y="370.65" width="3.50" height="3.50" fill="#0000ff"/>
<rect x="510.65" y="381.65" width="3.50" height="3.50" fill="#0000ff"/>
<g font-family="Liberation Sans, Arial, sans-serif" font-weight="bold" font-size="5.6" fill="#2a2a2a" stroke="#2a2a2a" stroke-width="0.12">
<text x="304.50" y="410.80" text-anchor="middle">0</text>
<text x="325.27" y="410.80" text-anchor="middle">0.1</text>
<text x="297.50" y="392.26" text-anchor="end">0.1</text>
<text x="346.04" y="410.80" text-anchor="middle">0.2</text>
<text x="297.50" y="375.64" text-anchor="end">0.2</text>
<text x="366.81" y="410.80" text-anchor="middle">0.3</text>
<text x="297.50" y="359.02" text-anchor="end">0.3</text>
<text x="387.58" y="410.80" text-anchor="middle">0.4</text>
<text x="297.50" y="342.40" text-anchor="end">0.4</text>
<text x="408.35" y="410.80" text-anchor="middle">0.5</text>
<text x="297.50" y="325.78" text-anchor="end">0.5</text>
<text x="429.12" y="410.80" text-anchor="middle">0.6</text>
<text x="297.50" y="309.15" text-anchor="end">0.6</text>
<text x="449.89" y="410.80" text-anchor="middle">0.7</text>
<text x="297.50" y="292.53" text-anchor="end">0.7</text>
<text x="470.66" y="410.80" text-anchor="middle">0.8</text>
<text x="297.50" y="275.91" text-anchor="end">0.8</text>
<text x="491.43" y="410.80" text-anchor="middle">0.9</text>
<text x="297.50" y="259.29" text-anchor="end">0.9</text>
<text x="512.20" y="410.80" text-anchor="middle">1</text>
<text x="297.50" y="242.67" text-anchor="end">1</text>
<text x="533.5" y="405.11" font-size="5.3">50</text>
<text x="533.5" y="390.04" font-size="5.3">100</text>
<text x="533.5" y="374.98" font-size="5.3">150</text>
<text x="533.5" y="359.92" font-size="5.3">200</text>
<text x="533.5" y="344.85" font-size="5.3">250</text>
<text x="533.5" y="329.79" font-size="5.3">300</text>
<text x="533.5" y="314.73" font-size="5.3">350</text>
<text x="533.5" y="299.66" font-size="5.3">400</text>
<text x="533.5" y="284.60" font-size="5.3">450</text>
<text x="533.5" y="269.54" font-size="5.3">500</text>
<text x="533.5" y="254.47" font-size="5.3">550</text>
<text x="533.5" y="239.41" font-size="5.3">600</text>
</g>
<g font-family="Liberation Sans, Arial, sans-serif" font-weight="bold" font-size="6.0" fill="#2a2a2a" stroke="#2a2a2a" stroke-width="0.14" text-anchor="middle">
<text x="409" y="418.8">CEEM</text>
<text transform="translate(287 321.5) rotate(-90)">CEE</text>
</g>
<rect x="521.5" y="237.5" width="9.70" height="165.70" fill="url(#jet)"/>
<rect x="464.1" y="242" width="47.60" height="15.20" fill="#fff" stroke="#1a1a1a" stroke-width="0.9"/>
<rect x="469.43" y="244.33" width="3.15" height="3.15" fill="#0000ff"/>
<path d="M469.57 252.60L471.00 250.60L472.43 252.60L471.00 254.59Z" fill="#000"/>
<g font-family="Liberation Sans, Arial, sans-serif" font-weight="bold" font-size="5.7" fill="#2a2a2a" stroke="#2a2a2a" stroke-width="0.18">
<text x="477.6" y="248.25">Undamaged</text>
<text x="477.6" y="254.95">Damaged</text>
</g>
<text x="329.6" y="353" font-family="Liberation Sans, Arial, sans-serif" font-weight="bold" font-size="5.7" fill="#1a1a1a" stroke="#1a1a1a" stroke-width="0.2">Boundary line</text>
<line x1="367.4" y1="347.4" x2="383.4" y2="323" stroke="#0a0a0a" stroke-width="1.35" marker-end="url(#ah)"/>
<text x="409.95" y="442.6" text-anchor="middle" font-family="Liberation Serif, Times New Roman, serif" font-size="16" letter-spacing="-0.4" fill="#111">(<tspan font-weight="bold">d</tspan>)</text>
</g>
</svg>
</body></html>
